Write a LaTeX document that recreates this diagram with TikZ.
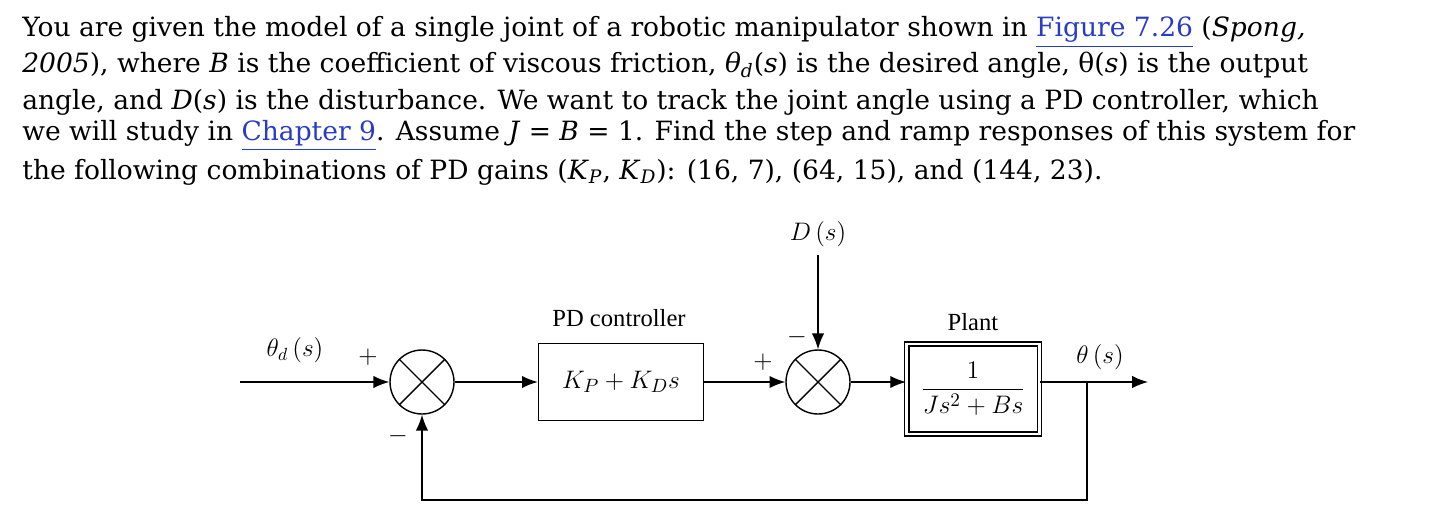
\documentclass[tikz,border=0pt]{standalone}
\usepackage{fontspec}
\usepackage{amsmath}
\setmainfont{DejaVu Serif}
\newfontfamily\blockfont{Liberation Serif}
\usetikzlibrary{arrows.meta,positioning}
\newcommand{\reflink}[1]{\textcolor{linkblue}{\underline{#1}}}
\definecolor{linkblue}{RGB}{40,60,200}
\begin{document}
\begin{tikzpicture}[x=0.02cm,y=-0.02cm,>={Latex[length=9pt,width=7pt]},
		line/.style={font=\fontsize{15.1}{18}\selectfont,anchor=west,inner sep=0pt},
		sum/.style={circle,draw,thick,minimum size=1.28cm,inner sep=0pt},
		block/.style={draw,thick,minimum width=3.3cm,minimum height=1.55cm,inner sep=0pt,
			font=\fontsize{15}{18}\selectfont},
		lbl/.style={font=\blockfont\fontsize{14}{16}\selectfont,inner sep=1pt}]
		\useasboundingbox (0,0) rectangle (1446,528);
		% problem statement
		\node[line] (l1) at (22,32) {You are given the model of a single joint of a robotic manipulator shown in \reflink{Figure 7.26} (\textit{Spong,}};
		\node[line] (l2) at (22,65) {\textit{2005}), where \textit{B} is the coefficient of viscous friction, \textit{θ}\textsubscript{\textit{d}}(\textit{s}) is the desired angle, θ(\textit{s}) is the output};
		\node[line] (l3) at (22,102) {angle, and \textit{D}(\textit{s}) is the disturbance. We want to track the joint angle using a PD controller, which};
		\node[line] (l4) at (22,136) {we will study in \reflink{Chapter 9}. Assume \textit{J} = \textit{B} = 1. Find the step and ramp responses of this system for};
		\node[line] (l5) at (22,172) {the following combinations of PD gains (\textit{K}\textsubscript{\textit{P}}, \textit{K}\textsubscript{\textit{D}}): (16, 7), (64, 15), and (144, 23).};
		% block diagram
		\coordinate (in) at (240,382);
		\node[sum] (s1) at (422,382) {};
		\node[block] (pd) at (621,382) {$K_P+K_Ds$};
		\node[sum] (s2) at (818,382) {};
		\node[block,double,double distance=1.5pt,minimum width=2.65cm,minimum height=1.8cm] (pl) at (973,389) {$\dfrac{1}{Js^2+Bs}$};
		\coordinate (br) at (1087,382);
		\coordinate (out) at (1148,382);
		\coordinate (dist) at (818,255);
		\coordinate (fb1) at (1087,500);
		\coordinate (fb2) at (422,500);
		\foreach \s in {s1,s2}
		{\draw[thick] (\s.north west) -- (\s.south east) (\s.north east) -- (\s.south west);}
		\draw[thick,->] (in) -- (s1);
		\draw[thick,->] (s1) -- (pd);
		\draw[thick,->] (pd) -- (s2);
		\draw[thick,->] (s2) -- (pl.west |- s2);
		\draw[thick,->] (pl.east |- br) -- (out);
		\draw[thick,->] (dist) -- (s2);
		\draw[thick,->] (br) -- (fb1) -- (fb2) -- (s1);
		% labels
		\node[lbl] at (295,350) {$\theta_d\,(s)$};
		\node[lbl] at (368,357) {$+$};
		\node[lbl] at (398,436) {$-$};
		\node[lbl] at (763,362) {$+$};
		\node[lbl] at (797,337) {$-$};
		\node[lbl] at (818,234) {$D\,(s)$};
		\node[lbl] at (619,318) {PD controller};
		\node[lbl] at (973,322) {Plant};
		\node[lbl] at (1100,357) {$\theta\,(s)$};
	\end{tikzpicture}
\end{document}
